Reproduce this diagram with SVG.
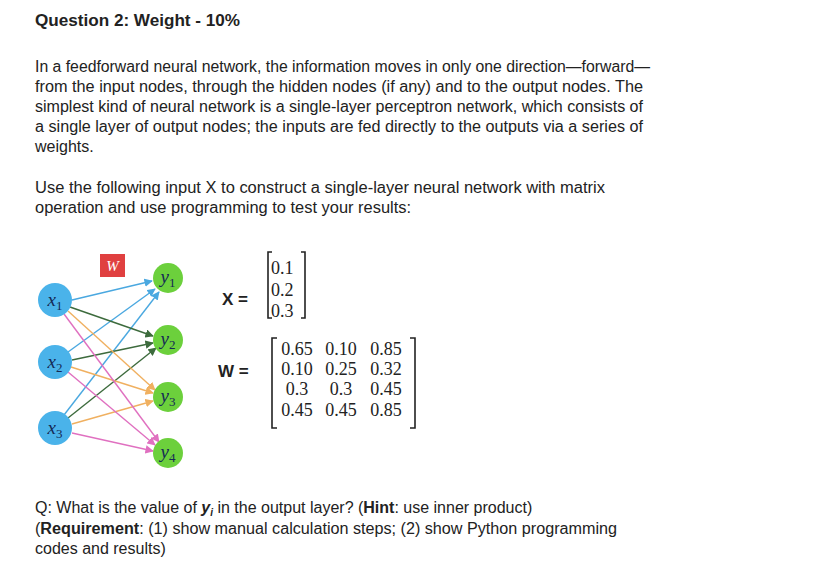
<svg xmlns="http://www.w3.org/2000/svg" width="815" height="581" viewBox="0 0 815 581">
<style>
.t{font-family:"Liberation Sans",Arial,sans-serif;font-size:16px;fill:#222}
.m{font-family:"Liberation Serif","Times New Roman",serif;font-size:18px;fill:#222}
.v{font-family:"Liberation Serif",serif;font-style:italic;font-size:19px;fill:#142a55}
.s{font-style:normal;font-size:13px}
.br{fill:none;stroke:#222;stroke-width:1.6}
.in{fill:#4ab3ea}.out{fill:#6cd03c}
</style>
<defs>
<marker id="ab" viewBox="0 0 10 10" refX="9" refY="5" markerWidth="6" markerHeight="6" orient="auto"><path d="M0,0L10,5L0,10z" fill="#4aa8e0"/></marker>
<marker id="ag" viewBox="0 0 10 10" refX="9" refY="5" markerWidth="6" markerHeight="6" orient="auto"><path d="M0,0L10,5L0,10z" fill="#3d6b3d"/></marker>
<marker id="ao" viewBox="0 0 10 10" refX="9" refY="5" markerWidth="6" markerHeight="6" orient="auto"><path d="M0,0L10,5L0,10z" fill="#f0b060"/></marker>
<marker id="ap" viewBox="0 0 10 10" refX="9" refY="5" markerWidth="6" markerHeight="6" orient="auto"><path d="M0,0L10,5L0,10z" fill="#e070c0"/></marker>
</defs>
<rect width="815" height="581" fill="#fff"/>
<text x="35" y="26" class="t" style="font-weight:bold;font-size:16px" textLength="205" lengthAdjust="spacingAndGlyphs">Question 2: Weight - 10%</text>
<text class="t" lengthAdjust="spacingAndGlyphs">
<tspan x="35" y="72" textLength="615" lengthAdjust="spacingAndGlyphs">In a feedforward neural network, the information moves in only one direction—forward—</tspan>
<tspan x="35" y="92" textLength="608" lengthAdjust="spacingAndGlyphs">from the input nodes, through the hidden nodes (if any) and to the output nodes. The</tspan>
<tspan x="35" y="112" textLength="608" lengthAdjust="spacingAndGlyphs">simplest kind of neural network is a single-layer perceptron network, which consists of</tspan>
<tspan x="35" y="132" textLength="608" lengthAdjust="spacingAndGlyphs">a single layer of output nodes; the inputs are fed directly to the outputs via a series of</tspan>
<tspan x="35" y="152">weights.</tspan>
<tspan x="35" y="193" textLength="570" lengthAdjust="spacingAndGlyphs">Use the following input X to construct a single-layer neural network with matrix</tspan>
<tspan x="35" y="213" textLength="376" lengthAdjust="spacingAndGlyphs">operation and use programming to test your results:</tspan>
</text>
<text class="t" x="35" y="513">Q: What is the value of <tspan font-weight="bold" font-style="italic">y</tspan><tspan font-size="10" dy="3" font-weight="bold" font-style="italic">i</tspan><tspan dy="-3"> in the output layer? (</tspan><tspan font-weight="bold">Hint</tspan>: use inner product)</text>
<text class="t" x="35" y="534" textLength="582" lengthAdjust="spacingAndGlyphs">(<tspan font-weight="bold">Requirement</tspan>: (1) show manual calculation steps; (2) show Python programming</text>
<text class="t" x="35" y="554">codes and results)</text>
<g id="connectors" stroke-width="1.4" fill="none">
<g stroke="#4aa8e0" marker-end="url(#ab)"><line x1="72" y1="300" x2="152" y2="281"/><line x1="68" y1="352" x2="155" y2="289"/><line x1="64" y1="415" x2="159" y2="292"/></g>
<g stroke="#3d6b3d" marker-end="url(#ag)"><line x1="70" y1="307" x2="153" y2="336"/><line x1="72" y1="360" x2="153" y2="343"/><line x1="68" y1="418" x2="156" y2="348"/></g>
<g stroke="#f0b060" marker-end="url(#ao)"><line x1="68" y1="311" x2="155" y2="390"/><line x1="71" y1="367" x2="153" y2="393"/><line x1="72" y1="424" x2="153" y2="401"/></g>
<g stroke="#e070c0" marker-end="url(#ap)"><line x1="64" y1="314" x2="159" y2="442"/><line x1="68" y1="372" x2="155" y2="445"/><line x1="72" y1="433" x2="153" y2="451"/></g>
</g>
<g id="W"><rect x="100" y="254" width="25" height="23" fill="#e04040"/><text x="112.5" y="271" text-anchor="middle" style="font-family:'Liberation Serif',serif;font-style:italic;font-size:15px;fill:#fff">W</text></g>
<g id="x1"><circle cx="55" cy="300" r="17" class="in"/><text x="55" y="306" text-anchor="middle" class="v">x<tspan class="s" dy="4">1</tspan></text></g>
<g id="x2"><circle cx="55" cy="362" r="17" class="in"/><text x="55" y="368" text-anchor="middle" class="v">x<tspan class="s" dy="4">2</tspan></text></g>
<g id="x3"><circle cx="55" cy="428" r="17" class="in"/><text x="55" y="434" text-anchor="middle" class="v">x<tspan class="s" dy="4">3</tspan></text></g>
<g id="y1"><circle cx="168" cy="278" r="15" class="out"/><text x="168" y="283" text-anchor="middle" class="v">y<tspan class="s" dy="4">1</tspan></text></g>
<g id="y2"><circle cx="168" cy="340" r="15" class="out"/><text x="168" y="345" text-anchor="middle" class="v">y<tspan class="s" dy="4">2</tspan></text></g>
<g id="y3"><circle cx="168" cy="397" r="15" class="out"/><text x="168" y="402" text-anchor="middle" class="v">y<tspan class="s" dy="4">3</tspan></text></g>
<g id="y4"><circle cx="168" cy="453" r="15" class="out"/><text x="168" y="458" text-anchor="middle" class="v">y<tspan class="s" dy="4">4</tspan></text></g>
<g id="Xmat">
<text x="222" y="305" class="t" style="font-weight:bold;font-size:17px">X =</text>
<path class="br" d="M272,252h-4v66h4M301,252h4v66h-4"/>
<text class="m" x="271" y="274">0.1</text><text class="m" x="271" y="296">0.2</text><text class="m" x="271" y="317">0.3</text>
</g>
<g id="Wmat">
<text x="218" y="377" class="t" style="font-weight:bold;font-size:17px">W =</text>
<path class="br" d="M277,338h-5v90h5M410,338h5v90h-5"/>
<g class="m" text-anchor="middle">
<text x="297" y="355">0.65</text><text x="341" y="355">0.10</text><text x="386" y="355">0.85</text>
<text x="297" y="375">0.10</text><text x="341" y="375">0.25</text><text x="386" y="375">0.32</text>
<text x="297" y="395">0.3</text><text x="341" y="395">0.3</text><text x="386" y="395">0.45</text>
<text x="297" y="416">0.45</text><text x="341" y="416">0.45</text><text x="386" y="416">0.85</text>
</g>
</g>
</svg>
